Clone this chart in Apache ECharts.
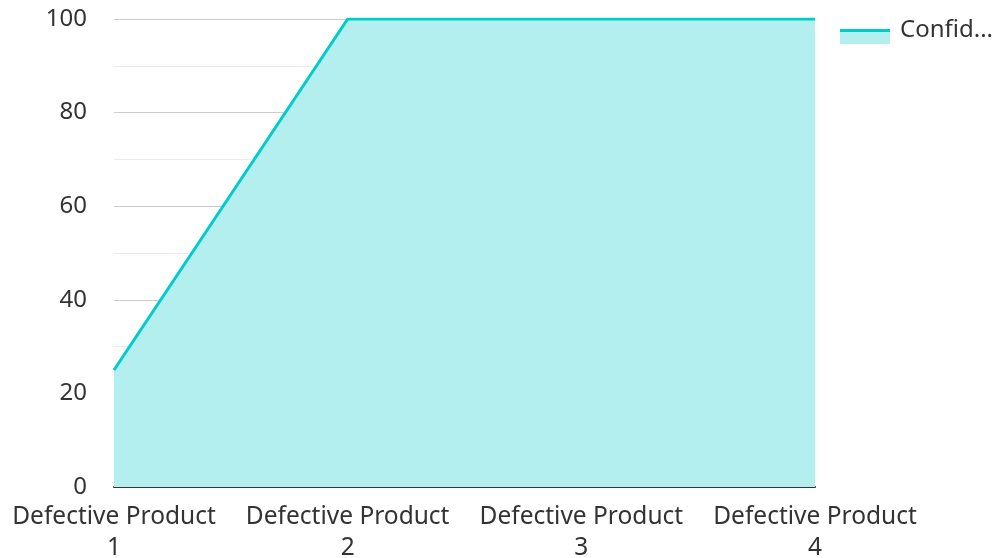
<!DOCTYPE html>
<html><head><meta charset="utf-8">
<script src="https://cdn.jsdelivr.net/npm/echarts@6/dist/echarts.min.js"></script>
<style>html,body{margin:0;padding:0;background:#fff}#c{width:997px;height:558px}</style>
</head><body><div id="c"></div>
<script>
const categories = ["Defective Product\n1","Defective Product\n2","Defective Product\n3","Defective Product\n4"];
const seriesName = "Confidence";
const values = [25, 100, 100, 100];
const yTicks = {min:0, max:100, interval:20};

const lineColor = '#00cccc';
const areaColor = '#b2efee';
const font = 'Noto Sans';

const chart = echarts.init(document.getElementById('c'));
chart.setOption({
  animation:false,
  textStyle:{fontFamily:font},
  grid:{left:114, right:182, top:19, bottom:71, containLabel:false, outerBoundsMode:'none'},
  legend:{
    left:840, top:18, padding:0, orient:'vertical', itemWidth:50, itemHeight:3, itemGap:10,
    icon:'rect',
    itemStyle:{color:lineColor},
    textStyle:{fontSize:24, lineHeight:25, color:'#333', width:101, overflow:'truncate', padding:[0,0,0,5], fontFamily:font},
    data:[{name:seriesName}]
  },
  graphic:[{type:'rect', left:840, top:32, z:-1, shape:{width:50, height:12}, style:{fill:areaColor}, silent:true}],
  xAxis:{
    type:'category', data:categories, boundaryGap:false,
    axisLine:{lineStyle:{color:'#333', width:2}},
    axisTick:{show:false},
    axisLabel:{fontSize:24.5, color:'#333', lineHeight:31, margin:15, interval:0, hideOverlap:false, fontFamily:font},
    splitLine:{show:false}
  },
  yAxis:{
    type:'value', min:yTicks.min, max:yTicks.max, interval:yTicks.interval,
    axisLine:{show:false}, axisTick:{show:false},
    axisLabel:{fontSize:24, color:'#333', margin:27, fontFamily:font},
    splitLine:{lineStyle:{color:'#cccccc', width:1}},
    minorTick:{show:false, splitNumber:2},
    minorSplitLine:{show:true, lineStyle:{color:'#ebebeb', width:1}}
  },
  series:[{
    name:seriesName, type:'line', data:values, showSymbol:false, symbol:'none',
    lineStyle:{color:lineColor, width:3},
    itemStyle:{color:lineColor},
    areaStyle:{color:areaColor, opacity:1}
  }]
});
</script></body></html>
